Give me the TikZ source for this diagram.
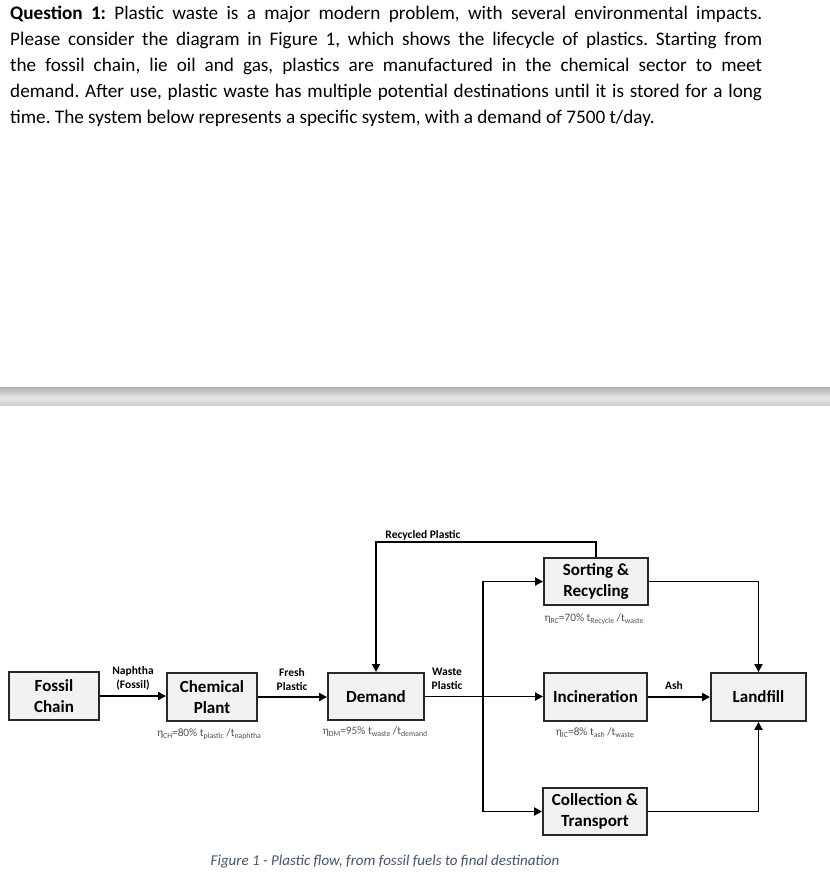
\documentclass[tikz,border=0pt]{standalone}
\usepackage{fontspec}
\setmainfont{Carlito}
\usetikzlibrary{arrows.meta,calc}
\definecolor{boxfill}{RGB}{242,242,242}
\definecolor{boxline}{RGB}{40,40,40}
\definecolor{etagray}{RGB}{80,80,80}
\definecolor{captionc}{RGB}{68,84,106}
\newcommand{\sbs}[1]{\raisebox{-0.35ex}{\fontsize{7.8}{8}\selectfont #1}}
\newcommand{\qline}[1]{\hbox to 752pt{#1}}
\newcommand{\qsetup}{\fontsize{19.2}{26}\selectfont\frenchspacing\spaceskip=4.3pt plus 19pt minus 2pt\relax\xspaceskip=\spaceskip}
\begin{document}
\begin{tikzpicture}[x=1pt,y=-1pt,
  procbox/.style={draw=boxline,line width=1.9pt,fill=boxfill,align=center,inner sep=0pt,
    font=\bfseries\fontsize{17}{20.5}\selectfont},
  flow/.style={line width=1.9pt,draw=black},
  flowarr/.style={flow,-{Triangle[length=8pt,width=8pt]}},
  flowlab/.style={font=\bfseries\fontsize{11.5}{14}\selectfont,align=center,inner sep=0pt},
  etalab/.style={font=\fontsize{11.3}{12}\selectfont,text=etagray,inner sep=0pt}]
\useasboundingbox (0,0) rectangle (830,876);
\fill[white] (0,0) rectangle (830,876);
% question text
\node[anchor=base west,inner sep=0pt,text width=752pt] (q) at (10,19)
{\qsetup
\qline{\textbf{Question 1:} Plastic waste is a major modern problem, with several environmental impacts.}
\qline{Please consider the diagram in Figure 1, which shows the lifecycle of plastics. Starting from}
\qline{the fossil chain, lie oil and gas, plastics are manufactured in the chemical sector to meet}
\qline{demand. After use, plastic waste has multiple potential destinations until it is stored for a long}
\hbox{time. The system below represents a specific system, with a demand of 7500 t/day.}\par};
% gray bar
\shade[top color={rgb,255:red,178;green,178;blue,178},bottom color={rgb,255:red,230;green,230;blue,230}] (0,387) rectangle (830,398);
\shade[top color={rgb,255:red,230;green,230;blue,230},bottom color={rgb,255:red,208;green,208;blue,208}] (0,398) rectangle (830,405);
% boxes
\node[procbox,minimum width=90pt,minimum height=48pt] (fossil) at (54,696) {Fossil\\Chain};
\node[procbox,minimum width=90pt,minimum height=48pt] (chem) at (212,697) {Chemical\\Plant};
\node[procbox,minimum width=96pt,minimum height=47pt] (demand) at (376,696.5) {Demand};
\node[procbox,minimum width=104pt,minimum height=47pt] (sort) at (596,581.5) {Sorting \&\\Recycling};
\node[procbox,minimum width=103pt,minimum height=48pt] (incin) at (595.5,697) {Incineration};
\node[procbox,minimum width=95pt,minimum height=48pt] (land) at (758.5,697) {Landfill};
\node[procbox,minimum width=104pt,minimum height=47pt] (coll) at (595,811.5) {Collection \&\\Transport};
% coordinates
\coordinate (bus) at (483,697);
\coordinate (rctop) at (596,542);
% connectors
\draw[flowarr] (fossil.east) -- (fossil.east -| chem.west);
\draw[flowarr] (chem.east) -- (chem.east -| demand.west);
\draw[flowarr] (demand.east) -- (demand.east -| incin.west);
\draw[flowarr] (bus) |- (sort.west);
\draw[flowarr] (bus) |- (coll.west);
\draw[flowarr] (sort.north) -- (rctop) -| (demand.north);
\draw[flowarr] (sort.east) -| (land.north);
\draw[flowarr] (coll.east) -| (land.south);
\draw[flowarr] (incin.east) -- (land.west);
% flow labels
\node[flowlab] (lnaph) at (133,678) {Naphtha\\(Fossil)};
\node[flowlab] (lfresh) at (292,679) {Fresh\\Plastic};
\node[flowlab] (lwaste) at (447,679) {Waste\\Plastic};
\node[flowlab] (lrec) at (423,535.5) {Recycled Plastic};
\node[flowlab] (lash) at (674,685) {Ash};
% efficiency labels
\node[etalab] (ech) at (209,734) {η\sbs{CH}=80\% t\sbs{plastic} /t\sbs{naphtha}};
\node[etalab] (edm) at (375,732) {η\sbs{DM}=95\% t\sbs{waste} /t\sbs{demand}};
\node[etalab] (erc) at (594,619) {η\sbs{RC}=70\% t\sbs{Recycle} /t\sbs{waste}};
\node[etalab] (eic) at (595,733) {η\sbs{IC}=8\% t\sbs{ash} /t\sbs{waste}};
% caption
\node[font=\itshape\fontsize{15}{17}\selectfont,text=captionc,inner sep=0pt] (cap) at (385,862) {Figure 1 - Plastic flow, from fossil fuels to final destination};
\end{tikzpicture}
\end{document}
